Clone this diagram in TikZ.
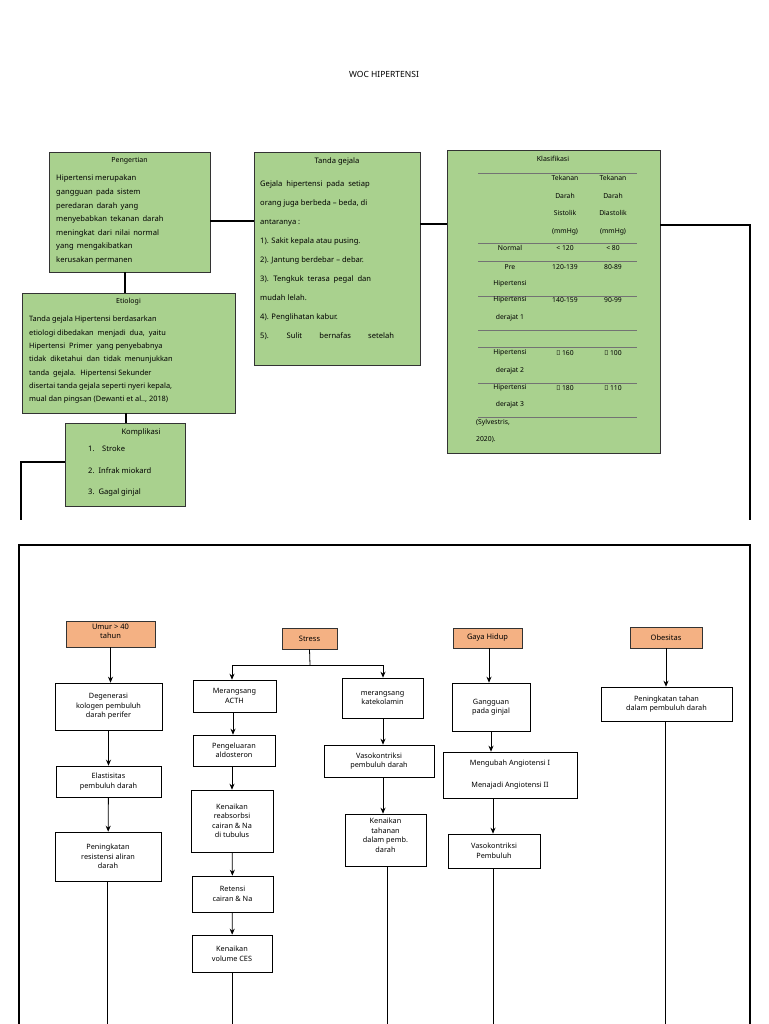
\documentclass[tikz,border=0pt]{standalone}
\usepackage{fontspec}
\setmainfont{Noto Sans}
\usetikzlibrary{arrows.meta}
\definecolor{gfill}{HTML}{A9D18E}
\definecolor{ofill}{HTML}{F4B183}
\begin{document}
\begin{tikzpicture}[x=1pt,y=-1pt,
  gbox/.style={draw=black!80,line width=0.9pt,fill=gfill,inner sep=0},
  obox/.style={draw=black!80,line width=0.6pt,fill=ofill,inner sep=0,font=\fontsize{7.5}{9}\selectfont,align=center},
  wbox/.style={draw=black,line width=0.6pt,fill=white,inner sep=0,font=\fontsize{7.3}{9.5}\selectfont,align=center},
  txt/.style={font=\fontsize{7.3}{13.5}\selectfont,inner sep=0,align=left},
  hd/.style={font=\fontsize{7}{9}\selectfont\bfseries,inner sep=0},
  tb/.style={font=\fontsize{6.8}{9}\selectfont,inner sep=0,align=center},
  link/.style={line width=1.6pt},
  thin/.style={line width=0.8pt},
  arr/.style={line width=0.8pt,-{Stealth[length=6pt,width=5pt]}}]
\useasboundingbox (0,0) rectangle (768,1024);
\fill[white] (0,0) rectangle (768,1024);
\node[font=\fontsize{8.5}{10}\selectfont] (title) at (384,74) {WOC HIPERTENSI};
% green boxes
\node[gbox,minimum width=161,minimum height=120] (peng) at (129.5,212) {};
\node[hd] at (129.5,161) {Pengertian};
\node[txt,anchor=north west,font=\fontsize{7.6}{13.6}\selectfont] at (56,175) {Hipertensi merupakan\\gangguan \,pada \,sistem\\peredaran \,darah \,yang\\menyebabkan \,tekanan \,darah\\meningkat \,dari \,nilai \,normal\\yang \,mengakibatkan\\kerusakan permanen};
\node[gbox,minimum width=166,minimum height=213] (tanda) at (337,258.5) {};
\node[hd,font=\fontsize{7.6}{9}\selectfont\bfseries] at (337,162) {Tanda gejala};
\node[txt,anchor=north west,font=\fontsize{7.6}{13}\selectfont] at (260,181) {Gejala \ hipertensi \ pada \ setiap\\[6pt]orang juga berbeda -- beda, di\\[6pt]antaranya :\\[6pt]1). Sakit kepala atau pusing.\\[6pt]2). Jantung berdebar -- debar.\\[6pt]3). \ Tengkuk \ terasa \ pegal \ dan\\[6pt]mudah lelah.\\[6pt]4). Penglihatan kabur.\\[6pt]5). \qquad Sulit \qquad bernafas \qquad setelah};
\node[gbox,minimum width=213,minimum height=303] (klas) at (553.5,301.5) {};
\node[hd] at (553,159) {Klasifikasi};
\foreach \y in {173,243,261,296,330,347,383,417} \draw[black!55,line width=0.6pt] (478,\y) -- (637,\y);
\node[tb] at (565,178) {Tekanan}; \node[tb] at (613,178) {Tekanan};
\node[tb] at (565,196) {Darah}; \node[tb] at (613,196) {Darah};
\node[tb] at (565,213) {Sistolik}; \node[tb] at (613,213) {Diastolik};
\node[tb] at (565,232) {(mmHg)}; \node[tb] at (613,232) {(mmHg)};
\node[tb] at (510,248) {Normal}; \node[tb] at (565,248) {< 120}; \node[tb] at (613,248) {< 80};
\node[tb] at (510,267) {Pre}; \node[tb] at (565,267) {120-139}; \node[tb] at (613,267) {80-89};
\node[tb] at (510,284) {Hipertensi};
\node[tb] at (510,300) {Hipertensi}; \node[tb] at (565,300) {140-159}; \node[tb] at (613,300) {90-99};
\node[tb] at (510,318) {derajat 1};
\node[tb] at (510,353) {Hipertensi}; \node[tb] at (565,353) {≥ 160}; \node[tb] at (613,353) {≥ 100};
\node[tb] at (510,371) {derajat 2};
\node[tb] at (510,388) {Hipertensi}; \node[tb] at (565,388) {≥ 180}; \node[tb] at (613,388) {≥ 110};
\node[tb] at (510,405) {derajat 3};
\node[tb,anchor=west] at (476,423) {(Sylvestris,};
\node[tb,anchor=west] at (476,440) {2020).};
\node[gbox,minimum width=213,minimum height=120] (etio) at (128.5,353) {};
\node[hd] at (128.5,302) {Etiologi};
\node[txt,anchor=north west,font=\fontsize{7.4}{13.3}\selectfont] at (29,316) {Tanda gejala Hipertensi berdasarkan\\etiologi dibedakan \ menjadi \ dua, \ yaitu\\Hipertensi \ Primer \ yang penyebabnya\\tidak \ diketahui \ dan \ tidak \ menunjukkan\\tanda \ gejala. \ Hipertensi Sekunder\\disertai tanda gejala seperti nyeri kepala,\\mual dan pingsan (Dewanti et al.., 2018)};
\node[gbox,minimum width=120,minimum height=83] (komp) at (125,464.5) {};
\node[hd,font=\fontsize{7.6}{9}\selectfont\bfseries] at (141,433) {Komplikasi};
\node[txt,anchor=north west,font=\fontsize{7.6}{21.5}\selectfont] at (88,446) {1.\quad Stroke\\2.\ \ Infrak miokard\\3.\ \ Gagal ginjal};
% top connectors
\draw[thin,line width=1.2pt] (peng.east |- 0,221) -- (tanda.west |- 0,221);
\draw[thin,line width=1.2pt] (tanda.east |- 0,224) -- (klas.west |- 0,224);
\draw[thin,line width=1.2pt] (125,272) -- (125,293);
\draw[thin,line width=1.2pt] (126,413) -- (126,423);
\coordinate (lt) at (21,462); \coordinate (lb) at (21,520);
\draw[link] (komp.west |- lt) -- (lt) -- (lb);
\coordinate (rt) at (750,225); \coordinate (rb) at (750,520);
\draw[link] (klas.east |- rt) -- (rt) -- (rb);
\coordinate (b1) at (19,1024); \coordinate (b2) at (19,545); \coordinate (b3) at (750,545); \coordinate (b4) at (750,1024);
\draw[link] (b1) -- (b2) -- (b3) -- (b4);
% bottom section
\begin{scope}
\node[obox,minimum width=89,minimum height=26] (umur) at (110.5,634) {};
\clip (66,621) rectangle (155,652);
\node[obox,draw=none,fill=none,anchor=north] at (110.5,624) {Umur > 40\\tahun};
\end{scope}
\node[obox,minimum width=55,minimum height=21] (stress) at (309.5,638.5) {Stress};
\node[obox,minimum width=69,minimum height=20] (gaya) at (487.5,638) {Gaya Hidup};
\node[obox,minimum width=72,minimum height=21] (obes) at (666,637.5) {Obesitas};
\node[wbox,minimum width=107,minimum height=47] (deg) at (108.5,706.5) {Degenerasi\\kologen pembuluh\\darah perifer};
\node[wbox,minimum width=105,minimum height=31] (elas) at (108.5,781.5) {Elastisitas\\pembuluh darah};
\node[wbox,minimum width=106,minimum height=49] (pres) at (108,856.5) {Peningkatan\\resistensi aliran\\darah};
\node[wbox,minimum width=83,minimum height=32] (acth) at (234.5,696) {Merangsang\\ACTH};
\node[wbox,minimum width=81,minimum height=40] (kat) at (382.5,698) {merangsang\\katekolamin};
\node[wbox,minimum width=82,minimum height=31] (aldo) at (234,750.5) {Pengeluaran\\aldosteron};
\node[wbox,minimum width=82,minimum height=62] (reab) at (232,821) {Kenaikan\\reabsorbsi\\cairan \& Na\\di tubulus};
\node[wbox,minimum width=81,minimum height=36] (ret) at (232.5,894) {Retensi\\cairan \& Na};
\node[wbox,minimum width=80,minimum height=37] (ces) at (232,953.5) {Kenaikan\\volume CES};
\node[wbox,minimum width=110,minimum height=32] (vaso) at (379,761) {Vasokontriksi\\pembuluh darah};
\begin{scope}
\node[wbox,minimum width=81,minimum height=52] (tah) at (385.5,840) {};
\clip (345,814) rectangle (426,866);
\node[wbox,draw=none,fill=none,anchor=north] at (385.5,818) {Kenaikan\\tahanan\\dalam pemb.\\darah};
\end{scope}
\node[wbox,minimum width=78,minimum height=48] (ging) at (491,707) {Gangguan\\pada ginjal};
\node[wbox,minimum width=134,minimum height=46,font=\fontsize{7.3}{22}\selectfont] (ang) at (510,775) {Mengubah Angiotensi I\\Menajadi Angiotensi II};
\node[wbox,minimum width=92,minimum height=34] (vp) at (494,851) {Vasokontriksi\\Pembuluh};
\node[wbox,minimum width=131,minimum height=34] (ptah) at (666.5,704) {Peningkatan tahan\\dalam pembuluh darah};
% arrows
\draw[arr] (umur.south) -- (deg.north -| umur.south);
\draw[arr] (deg) -- (elas);
\draw[arr] (elas) -- (pres);
\coordinate (e1) at (107,1024); \draw[thin] (pres.south -| e1) -- (e1);
\coordinate (sj) at (310,665);
\draw[thin] (stress.south) -- (sj);
\draw[thin] (232,665) -- (383,665);
\draw[arr] (232,665) -- (acth.north -| 232,0);
\draw[arr] (383,665) -- (kat.north -| 383,0);
\draw[arr] (acth.south -| 233,0) -- (aldo.north -| 233,0);
\draw[arr] (aldo.south -| 232,0) -- (reab.north -| 232,0);
\draw[arr] (reab) -- (ret);
\draw[arr] (ret) -- (ces);
\coordinate (e2) at (232,1024); \draw[thin] (ces.south) -- (e2);
\draw[arr] (kat.south -| 383,0) -- (vaso.north -| 383,0);
\draw[arr] (vaso.south -| 383,0) -- (tah.north -| 383,0);
\coordinate (e3) at (387,1024); \draw[thin] (tah.south -| e3) -- (e3);
\draw[arr] (gaya.south -| 489,0) -- (ging.north -| 489,0);
\draw[arr] (ging.south -| 491,0) -- (ang.north -| 491,0);
\draw[arr] (ang.south -| 493,0) -- (vp.north -| 493,0);
\coordinate (e4) at (493,1024); \draw[thin] (vp.south -| e4) -- (e4);
\draw[arr] (obes.south) -- (ptah.north -| obes.south);
\coordinate (e5) at (665,1024); \draw[thin] (ptah.south -| e5) -- (e5);
\end{tikzpicture}
\end{document}
